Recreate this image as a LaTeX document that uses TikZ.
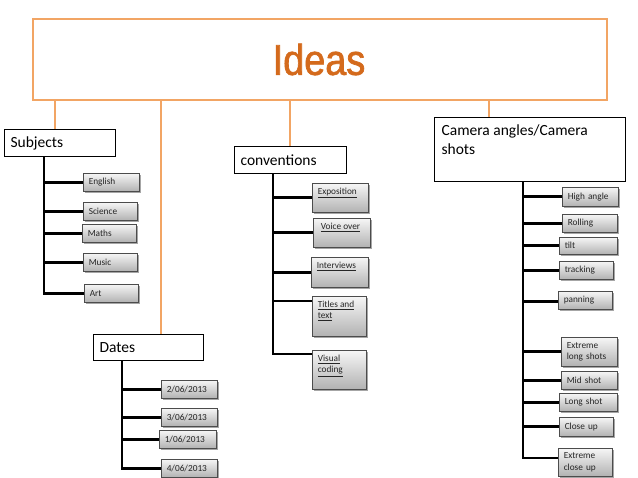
\documentclass[tikz,border=0pt]{standalone}
\usepackage{fontspec}
\setmainfont{Carlito}
\newfontfamily\ideafont[FakeBold=1.6, FakeStretch=0.88]{Liberation Sans}
\usetikzlibrary{shadows,calc}
\definecolor{orln}{RGB}{242,165,100}
\definecolor{ortx}{RGB}{212,106,28}
\definecolor{boxtop}{RGB}{246,246,246}
\definecolor{boxbot}{RGB}{178,178,178}
\begin{document}
\begin{tikzpicture}[x=1pt,y=-1pt,
  oline/.style={draw=orln, line width=2.2pt},
  trunk/.style={draw=black, line width=2.6pt, line join=miter},
  head/.style={draw=black, line width=1.2pt, fill=white, anchor=north west,
    align=left, font=\fontsize{15.5}{19}\selectfont, inner xsep=6pt, inner ysep=0pt},
  child/.style={draw=black!70, line width=0.5pt, top color=boxtop, bottom color=boxbot,
    drop shadow={shadow xshift=1.3pt, shadow yshift=-1.3pt, opacity=0.35, fill=black},
    anchor=north west, align=left, font=\fontsize{9.3}{11.5}\selectfont,
    inner xsep=5.5pt, inner ysep=3pt, text=black!85},
  topchild/.style={child, inner ysep=3pt, inner xsep=5.5pt}
]
\useasboundingbox (0,0) rectangle (638,478);

% main box
\node[draw=orln, line width=1.8pt, fill=white, anchor=north west,
      minimum width=574, minimum height=81, inner sep=0pt] (ideas) at (32,18) {};
\node[font=\ideafont\fontsize{43}{43}\selectfont, text=ortx, inner sep=0pt] (ideastx) at (319,59.5) {Ideas};

% headings
\node[head, text width=99, minimum height=27] (subj) at (4,129) {Subjects};
\node[head, text width=100, minimum height=27] (conv) at (234,146) {conventions};
\node[head, text width=98, minimum height=26] (dates) at (93,334) {Dates};
\node[head, inner xsep=7pt, inner ysep=5pt] (cam) at (434,117)
  {\parbox[t][54pt][t]{177pt}{\strut Camera angles/Camera\\shots}};

% orange connectors
\draw[oline] (ideas.south -| 55,0) -- (subj.north -| 55,0);
\draw[oline] (ideas.south -| 161,0) -- (dates.north -| 161,0);
\draw[oline] (ideas.south -| 290,0) -- (conv.north -| 290,0);
\draw[oline] (ideas.south -| 489,0) -- (cam.north -| 489,0);

% subjects children
\node[child, text width=45, minimum height=18] (eng) at (83,173) {English};
\node[child, text width=43, minimum height=18] (sci) at (83,202) {Science};
\node[child, text width=43, minimum height=18] (mat) at (82,224) {Maths};
\node[child, text width=43, minimum height=18] (mus) at (83,253) {Music};
\node[child, text width=43, minimum height=18] (art) at (84,284) {Art};
\coordinate (sx) at (44,0);
\draw[trunk] (subj.south -| sx) |- (art.west);
\foreach \n in {eng,sci,mat,mus} \draw[trunk] (\n.west -| sx) -- (\n.west);

% dates children
\node[child, text width=45, minimum height=18] (d2) at (161,380) {2/06/2013};
\node[child, text width=45, minimum height=18] (d3) at (161,408) {3/06/2013};
\node[child, text width=46, minimum height=18] (d1) at (159,430) {1/06/2013};
\node[child, text width=45, minimum height=18] (d4) at (161,459) {4/06/2013};
\coordinate (dx) at (122,0);
\draw[trunk] (dates.south -| dx) |- (d4.west);
\foreach \n in {d2,d3,d1} \draw[trunk] (\n.west -| dx) -- (\n.west);

% conventions children
\node[topchild] (expo) at (312,183) {\parbox[t][23pt][t]{45pt}{\strut\underline{Exposition}}};
\node[topchild, inner xsep=7.5pt] (voice) at (313,218) {\parbox[t][23pt][t]{42pt}{\strut\underline{Voice over}}};
\node[topchild] (inter) at (311,257) {\parbox[t][24pt][t]{46pt}{\strut\underline{Interviews}}};
\node[topchild] (titl) at (312,296) {\parbox[t][34pt][t]{43pt}{\strut\underline{Titles and}\\\underline{text}}};
\node[topchild] (visu) at (312,350) {\parbox[t][33pt][t]{43pt}{\strut\underline{Visual}\\\underline{coding}}};
\coordinate (cx) at (273,0);
\draw[trunk] (conv.south -| cx) |- ([yshift=-4pt]visu.north west);
\draw[trunk] (expo.west -| cx) -- (expo.west);
\draw[trunk] (voice.west -| cx) -- (voice.west);
\draw[trunk] (inter.west -| cx) -- (inter.west);
\draw[trunk] ([yshift=-5pt]titl.north west -| cx) -- ([yshift=-5pt]titl.north west);

% camera children
\node[child, text width=45, minimum height=19] (high) at (562,187) {High angle};
\node[child, text width=44, minimum height=18] (roll) at (562,214) {Rolling};
\node[child, text width=47, minimum height=17] (tilt) at (559,237) {tilt};
\node[child, text width=43, minimum height=18] (track) at (559,261) {tracking};
\node[child, text width=43, minimum height=18] (pan) at (558,291) {panning};
\node[child, text width=45, minimum height=29] (els) at (561,337) {Extreme\\long shots};
\node[child, text width=45, minimum height=18] (mid) at (561,371) {Mid shot};
\node[child, text width=47, minimum height=18] (long) at (559,393) {Long shot};
\node[child, text width=43, minimum height=19] (close) at (559,417) {Close up};
\node[child, text width=43, minimum height=28] (ecu) at (558,448) {Extreme\\close up};
\coordinate (kx) at (523,0);
\draw[trunk] (cam.south -| kx) |- ([yshift=-10pt]ecu.north west);
\foreach \n in {high,roll,tilt,track,els,mid,long,close} \draw[trunk] (\n.west -| kx) -- (\n.west);
\draw[trunk] ([yshift=-1.5pt]pan.west -| kx) -- ([yshift=-1.5pt]pan.west);
\end{tikzpicture}
\end{document}
